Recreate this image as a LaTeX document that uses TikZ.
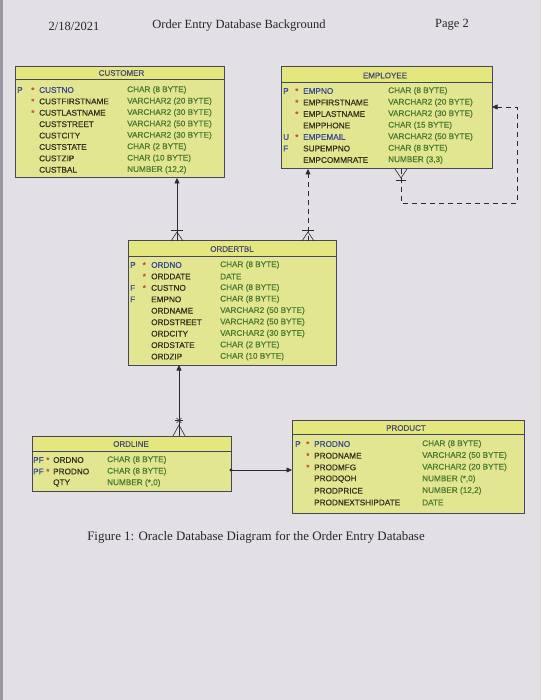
\documentclass[tikz,border=0pt]{standalone}
\usepackage{fontspec}
\setmainfont{Liberation Serif}
\newfontfamily\tabfont[FakeBold=0.6]{Liberation Sans}
\usetikzlibrary{arrows.meta}
\definecolor{bgc}{HTML}{E2E0E5}
\definecolor{edgec}{HTML}{9A989E}
\definecolor{boxfill}{HTML}{E3E690}
\definecolor{hdrfill}{HTML}{E3E77E}
\definecolor{boxline}{HTML}{44475E}
\definecolor{nmc}{HTML}{34321F}
\definecolor{pkc}{HTML}{3A4795}
\definecolor{tyc}{HTML}{4A7A30}
\definecolor{astc}{HTML}{C0503A}
\definecolor{ttlc}{HTML}{474A74}
\definecolor{linec}{HTML}{2A2A30}
\tikzset{
  tbl/.style={draw=boxline, line width=1pt, fill=boxfill, inner sep=0pt, outer sep=0pt, anchor=north west},
  col/.style={anchor=west, inner sep=0pt, font=\tabfont\fontsize{8.2}{9}\selectfont},
  nm/.style={col, text=nmc},
  pk/.style={col, text=pkc},
  ty/.style={col, text=tyc},
  ast/.style={col, text=astc},
  ttl/.style={inner sep=0pt, font=\tabfont\fontsize{8}{9}\selectfont, text=ttlc},
  conn/.style={draw=linec, line width=0.6pt, -{Triangle[length=5.5pt,width=5pt]}},
  sym/.style={draw=linec, line width=0.6pt},
  page/.style={inner sep=0pt, font=\fontsize{12.5}{14}\selectfont, text=black!85},
  capstyle/.style={inner sep=0pt, font=\fontsize{12.9}{14}\selectfont, text=black!85}
}
% name, x1, y1, x2, y2, yheader, title, title-x, title-y
\newcommand{\ertable}[9]{%
  \node[tbl, minimum width={(#4)-(#2)}, minimum height={(#5)-(#3)}] (#1) at (#2,#3) {};
  \fill[hdrfill] (#2,#3) rectangle (#4,#6);
  \draw[boxline, line width=0.8pt] (#2,#6) -- (#4,#6);
  \draw[boxline, line width=1pt] (#1.north west) rectangle (#1.south east);
  \node[ttl] (#1-title) at (#8,#9) {#7};
}
\begin{document}
\begin{tikzpicture}[x=1pt,y=-1pt]
\useasboundingbox (0,0) rectangle (541,700);
\fill[bgc] (0,0) rectangle (541,700);
\fill[edgec] (0,0) rectangle (3,700);

% page header
\node[page] (hdate) at (74,26) {2/18/2021};
\node[page] (htitle) at (239,26) {Order Entry Database Background};
\node[page] (hpage) at (452,25) {Page 2};

% CUSTOMER
\ertable{cust}{15}{67}{224}{178}{79}{CUSTOMER}{121.5}{73}
\foreach \k/\a/\n/\t/\s [count=\i] in {
  P/*/CUSTNO/{CHAR (8 BYTE)}/pk,
  {}/*/CUSTFIRSTNAME/{VARCHAR2 (20 BYTE)}/nm,
  {}/*/CUSTLASTNAME/{VARCHAR2 (30 BYTE)}/nm,
  {}/{}/CUSTSTREET/{VARCHAR2 (50 BYTE)}/nm,
  {}/{}/CUSTCITY/{VARCHAR2 (30 BYTE)}/nm,
  {}/{}/CUSTSTATE/{CHAR (2 BYTE)}/nm,
  {}/{}/CUSTZIP/{CHAR (10 BYTE)}/nm,
  {}/{}/CUSTBAL/{NUMBER (12,2)}/nm}{
  \pgfmathsetmacro\yy{90+(\i-1)*11.4}
  \node[pk] (cust-k\i) at (17,\yy) {\k};
  \node[ast] (cust-a\i) at (31,\yy) {\a};
  \node[\s] (cust-n\i) at (39,\yy) {\n};
  \node[ty] (cust-t\i) at (127,\yy) {\t};
}

% EMPLOYEE
\ertable{emp}{281}{67}{492}{169}{82.5}{EMPLOYEE}{385}{75.5}
\foreach \k/\a/\n/\t/\s [count=\i] in {
  P/*/EMPNO/{CHAR (8 BYTE)}/pk,
  {}/*/EMPFIRSTNAME/{VARCHAR2 (20 BYTE)}/nm,
  {}/*/EMPLASTNAME/{VARCHAR2 (30 BYTE)}/nm,
  {}/{}/EMPPHONE/{CHAR (15 BYTE)}/nm,
  U/*/EMPEMAIL/{VARCHAR2 (50 BYTE)}/pk,
  F/{}/SUPEMPNO/{CHAR (8 BYTE)}/nm,
  {}/{}/EMPCOMMRATE/{NUMBER (3,3)}/nm}{
  \pgfmathsetmacro\yy{91+(\i-1)*11.5}
  \node[pk] (emp-k\i) at (283,\yy) {\k};
  \node[ast] (emp-a\i) at (295,\yy) {\a};
  \node[\s] (emp-n\i) at (303,\yy) {\n};
  \node[ty] (emp-t\i) at (388,\yy) {\t};
}

% ORDERTBL
\ertable{ord}{128}{241}{336}{365}{256}{ORDERTBL}{232}{249}
\foreach \k/\a/\n/\t/\s [count=\i] in {
  P/*/ORDNO/{CHAR (8 BYTE)}/pk,
  {}/*/ORDDATE/{DATE}/nm,
  F/*/CUSTNO/{CHAR (8 BYTE)}/nm,
  F/{}/EMPNO/{CHAR (8 BYTE)}/nm,
  {}/{}/ORDNAME/{VARCHAR2 (50 BYTE)}/nm,
  {}/{}/ORDSTREET/{VARCHAR2 (50 BYTE)}/nm,
  {}/{}/ORDCITY/{VARCHAR2 (30 BYTE)}/nm,
  {}/{}/ORDSTATE/{CHAR (2 BYTE)}/nm,
  {}/{}/ORDZIP/{CHAR (10 BYTE)}/nm}{
  \pgfmathsetmacro\yy{265+(\i-1)*11.45}
  \node[pk] (ord-k\i) at (130,\yy) {\k};
  \node[ast] (ord-a\i) at (142.5,\yy) {\a};
  \node[\s] (ord-n\i) at (151,\yy) {\n};
  \node[ty] (ord-t\i) at (220,\yy) {\t};
}

% ORDLINE
\ertable{ordl}{32}{436}{231}{491}{451}{ORDLINE}{131}{444}
\foreach \k/\a/\n/\t/\s [count=\i] in {
  PF/*/ORDNO/{CHAR (8 BYTE)}/nm,
  PF/*/PRODNO/{CHAR (8 BYTE)}/nm,
  {}/{}/QTY/{NUMBER (*,0)}/nm}{
  \pgfmathsetmacro\yy{460+(\i-1)*11.5}
  \node[pk] (ordl-k\i) at (33,\yy) {\k};
  \node[ast] (ordl-a\i) at (46,\yy) {\a};
  \node[\s] (ordl-n\i) at (53,\yy) {\n};
  \node[ty] (ordl-t\i) at (107,\yy) {\t};
}

% PRODUCT
\ertable{prod}{292}{420}{524}{513}{434}{PRODUCT}{406}{428}
\foreach \k/\a/\n/\t/\s [count=\i] in {
  P/*/PRODNO/{CHAR (8 BYTE)}/pk,
  {}/*/PRODNAME/{VARCHAR2 (50 BYTE)}/nm,
  {}/*/PRODMFG/{VARCHAR2 (20 BYTE)}/nm,
  {}/{}/PRODQOH/{NUMBER (*,0)}/nm,
  {}/{}/PRODPRICE/{NUMBER (12,2)}/nm,
  {}/{}/PRODNEXTSHIPDATE/{DATE}/nm}{
  \pgfmathsetmacro\yy{444+(\i-1)*11.7}
  \node[pk] (prod-k\i) at (295,\yy) {\k};
  \node[ast] (prod-a\i) at (306,\yy) {\a};
  \node[\s] (prod-n\i) at (314,\yy) {\n};
  \node[ty] (prod-t\i) at (422,\yy) {\t};
}

% reference coordinates for connector positions
\coordinate (xc) at (177,0);
\coordinate (xe) at (308,0);
\coordinate (xs) at (401,0);
\coordinate (xl) at (179,0);
\coordinate (sc) at (517,203);
\coordinate (ys) at (0,107);
\coordinate (yl) at (0,470);

% ORDERTBL -> CUSTOMER
\draw[conn] (ord.north -| xc) -- (cust.south -| xc);
\draw[sym] (171,230.5) -- (183,230.5);
\draw[sym] (171,241) -- (177,232) -- (183,241);

% ORDERTBL -> EMPLOYEE (dashed)
\draw[conn, dash pattern=on 5pt off 4pt] (ord.north -| xe) -- (emp.south -| xe);
\draw[sym] (302,230.5) -- (314,230.5);
\draw[sym] (302,241) -- (308,232) -- (314,241);

% EMPLOYEE self relation (dashed)
\draw[conn, dash pattern=on 5pt off 4pt] (emp.south -| xs) |- (sc) |- (emp.east |- ys);
\draw[sym] (395,169) -- (401,178) -- (407,169);
\draw[sym] (396,180.5) -- (406,180.5);

% ORDLINE -> ORDERTBL
\draw[conn] (ordl.north -| xl) -- (ord.south -| xl);
\draw[sym] (176.5,418) -- (181.5,423);
\draw[sym] (176.5,423) -- (181.5,418);
\draw[sym] (175,420.5) -- (183,420.5);
\draw[sym] (173,436) -- (179,425) -- (185,436);

% ORDLINE -> PRODUCT
\draw[conn] (ordl.east |- yl) -- (prod.west |- yl);
\fill[linec] (ordl.east |- yl) circle (1.7);

% caption
\node[capstyle] (cap) at (256,537) {Figure 1: Oracle Database Diagram for the Order Entry Database};
\end{tikzpicture}
\end{document}
